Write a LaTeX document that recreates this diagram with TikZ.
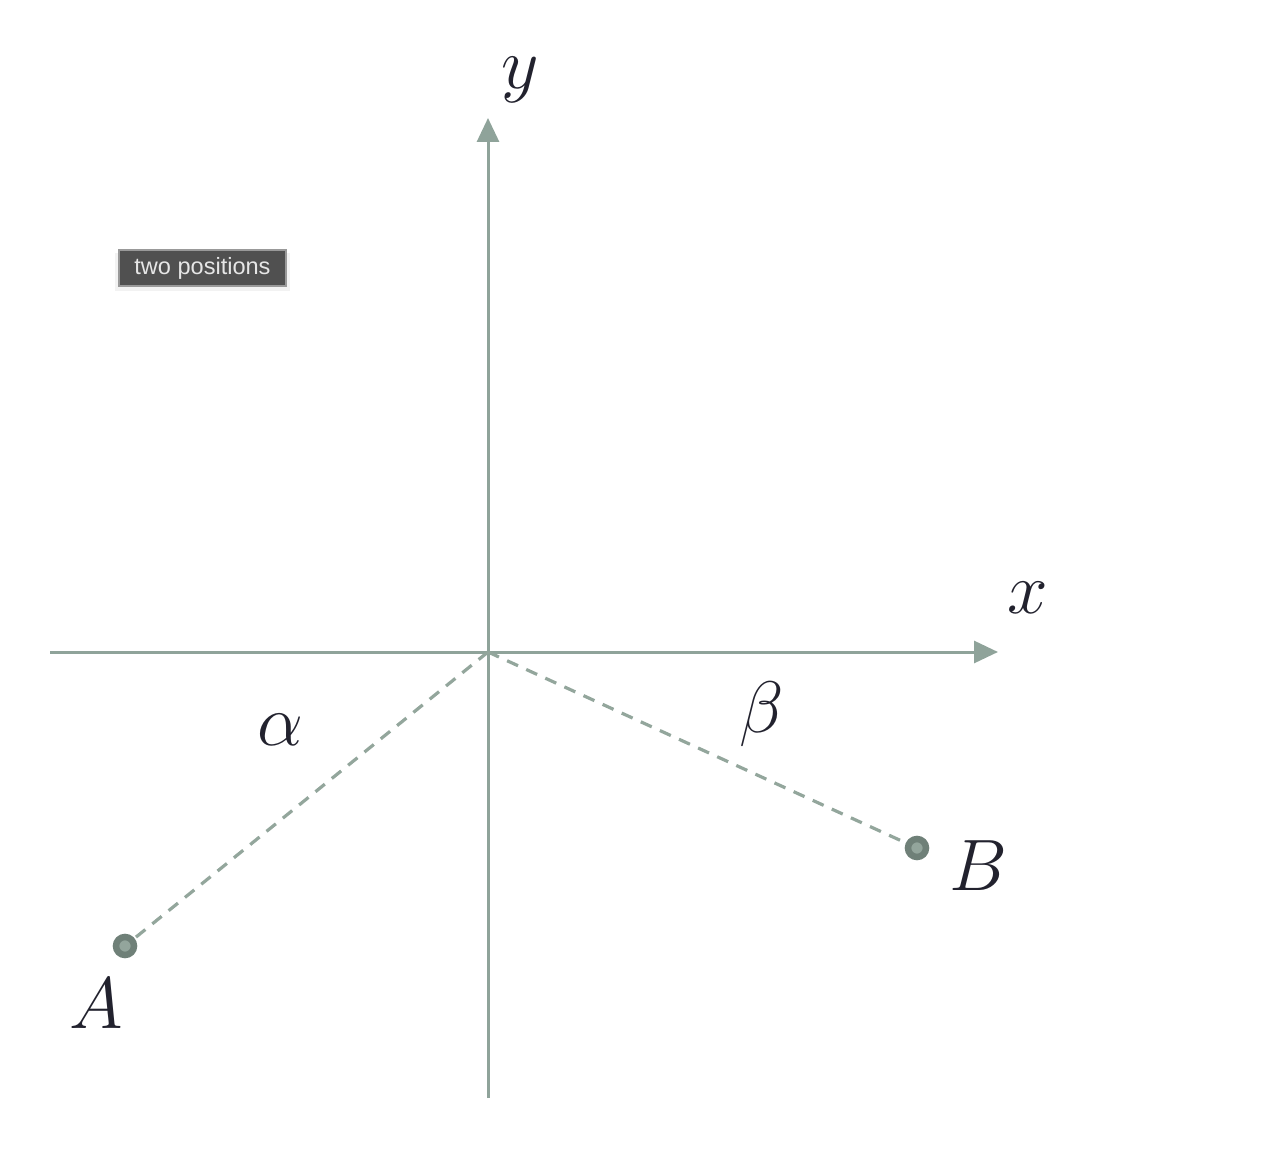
\documentclass[tikz,border=0pt]{standalone}
\usepackage{fontspec}
\usepackage{tikz}
\usetikzlibrary{arrows.meta,shadows}
\newfontfamily\tipfont{Liberation Sans}
\definecolor{axisgray}{HTML}{8FA39A}
\definecolor{dashgray}{HTML}{93A69C}
\definecolor{ptgray}{HTML}{6F8078}
\definecolor{ptcore}{HTML}{93A59C}
\definecolor{tipbg}{HTML}{505050}
\definecolor{tiptext}{HTML}{E6E6E6}
\definecolor{inkblack}{HTML}{22222E}

\begin{document}
\begin{tikzpicture}[
    axis/.style={draw=axisgray, line width=0.03cm},
    tip/.style={-{Triangle[length=0.24cm, width=0.22cm]}},
    arm/.style={draw=dashgray, line width=0.032cm, dash pattern=on 0.12cm off 0.09cm},
    pt/.style={draw=ptgray, fill=ptcore, circle, line width=0.065cm, minimum size=0.18cm, inner sep=0pt},
    lbl/.style={text=inkblack, font=\fontsize{21}{24}\selectfont, inner sep=0pt},
    tooltip/.style={fill=tipbg, draw=gray!80, line width=0.3pt, text=tiptext, font=\tipfont\fontsize{6.7}{8}\selectfont,
      minimum width=1.67cm, minimum height=0.36cm, inner sep=0pt,
      drop shadow={opacity=0.1, shadow xshift=0pt, shadow yshift=-1pt, shadow scale=1.05}}
  ]
  \useasboundingbox (0,0) rectangle (12.78,-11.52);

  % axes
  \coordinate (O) at (4.88,-6.52);
  \coordinate (xl) at (0.50,-6.52);
  \coordinate (xr) at (9.98,-6.52);
  \coordinate (yb) at (4.88,-10.98);
  \coordinate (yt) at (4.88,-1.18);
  \draw[axis, tip, axisgray] (xl) -- (xr);
  \draw[axis, tip, axisgray] (yb) -- (yt);

  % the two positions
  \node[pt] (A) at (1.25,-9.46) {};
  \node[pt] (B) at (9.17,-8.48) {};
  \draw[arm] (O) -- (A);
  \draw[arm] (O) -- (B);

  % labels
  \node[lbl] (ly) at (5.20,-0.80) {$y$};
  \node[lbl] (lx) at (10.28,-5.98) {$x$};
  \node[lbl] (la) at (2.80,-7.30) {$\alpha$};
  \node[lbl] (lb) at (7.62,-7.14) {$\beta$};
  \node[lbl] (lA) at (0.96,-10.04) {$A$};
  \node[lbl] (lB) at (9.78,-8.66) {$B$};

  \node[tooltip] (tt) at (2.025,-2.68) {two positions};
\end{tikzpicture}
\end{document}
